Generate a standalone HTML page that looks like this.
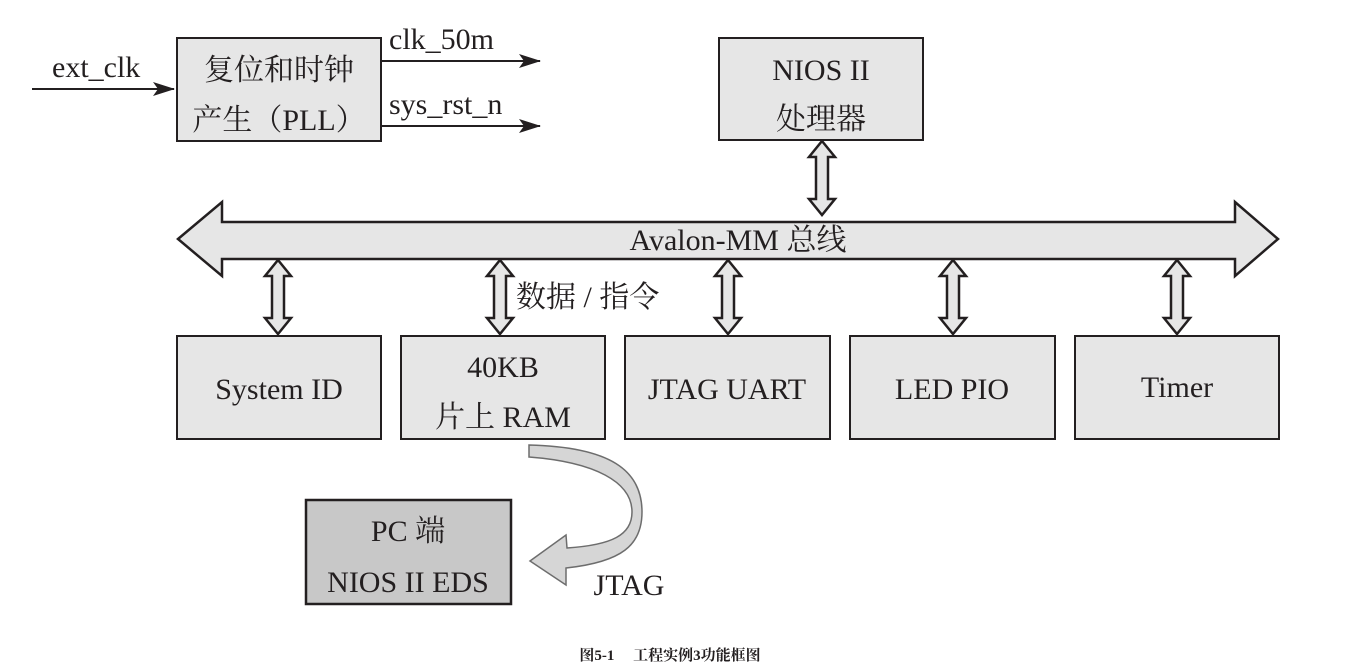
<!DOCTYPE html>
<html><head><meta charset="utf-8"><style>
body{margin:0;background:#fff}
svg text{font-family:"Liberation Serif","Noto Serif CJK SC",serif;fill:#231f20}
</style></head><body>
<svg width="1368" height="667" xmlns="http://www.w3.org/2000/svg">
<defs>
<marker id="ah" markerWidth="22" markerHeight="14" refX="21" refY="7" orient="auto" markerUnits="userSpaceOnUse">
<path d="M0,0 L22,7 L0,14 L5,7 z" fill="#231f20"/></marker>
<g id="da"><path d="M0,0 L13,16 L6,16 L6,58 L13,58 L0,74 L-13,58 L-6,58 L-6,16 L-13,16 z" fill="#e6e6e6" stroke="#231f20" stroke-width="2.5"/></g>
</defs>
<g stroke="#231f20" stroke-width="2">
<rect x="177" y="38" width="204" height="103" fill="#e6e6e6"/>
<rect x="719" y="38" width="204" height="102" fill="#e6e6e6"/>
<rect x="177" y="336" width="204" height="103" fill="#e6e6e6"/>
<rect x="401" y="336" width="204" height="103" fill="#e6e6e6"/>
<rect x="625" y="336" width="205" height="103" fill="#e6e6e6"/>
<rect x="850" y="336" width="205" height="103" fill="#e6e6e6"/>
<rect x="1075" y="336" width="204" height="103" fill="#e6e6e6"/>
<rect x="306" y="500" width="205" height="104" fill="#c8c8c8" stroke-width="2.5"/>
<line x1="32" y1="89" x2="174" y2="89" marker-end="url(#ah)"/>
<line x1="381" y1="61" x2="540" y2="61" marker-end="url(#ah)"/>
<line x1="381" y1="126" x2="540" y2="126" marker-end="url(#ah)"/>
</g>
<path d="M178,239 L222,202 L222,222 L1235,222 L1235,202 L1278,239 L1235,276 L1235,259 L222,259 L222,276 z" fill="#e6e6e6" stroke="#231f20" stroke-width="2.5"/>
<use href="#da" x="278" y="260"/>
<use href="#da" x="500" y="260"/>
<use href="#da" x="728" y="260"/>
<use href="#da" x="953" y="260"/>
<use href="#da" x="1177" y="260"/>
<use href="#da" x="822" y="141"/>
<path d="M529,457 C600,460 638,480 638,512 C638,535 612,545 567,550 L566,535 L530,561 L566,585 L566,570 C620,565 640,545 640,512 C640,470 610,452 529,452 z" fill="none"/>
<path d="M529,457 C595,462 632,482 632,512 C632,535 612,545 567,548 L566,535 L530,561 L566,585 L566,568 C622,562 642,545 642,512 C642,470 610,447 529,445 z" fill="#d6d6d6" stroke="#6d6d6d" stroke-width="1.5"/>
<g font-size="30" text-anchor="middle">
<text x="279" y="80">复位和时钟</text>
<text x="279" y="130">产生（PLL）</text>
<text x="821" y="80">NIOS II</text>
<text x="821" y="129">处理器</text>
<text x="738" y="250">Avalon-MM 总线</text>
<text x="279" y="399">System ID</text>
<text x="503" y="377">40KB</text>
<text x="503" y="427">片上 RAM</text>
<text x="727" y="399">JTAG UART</text>
<text x="952" y="399">LED PIO</text>
<text x="1177" y="397">Timer</text>
<text x="408" y="541">PC 端</text>
<text x="408" y="592">NIOS II EDS</text>
<text x="629" y="595">JTAG</text>
</g>
<g font-size="30">
<text x="52" y="77">ext_clk</text>
<text x="389" y="49">clk_50m</text>
<text x="389" y="114">sys_rst_n</text>
<text x="516" y="307">数据 / 指令</text>
</g>
<text x="670" y="660" font-size="15" font-weight="bold" text-anchor="middle">图5-1　 工程实例3功能框图</text>
</svg>
</body></html>
